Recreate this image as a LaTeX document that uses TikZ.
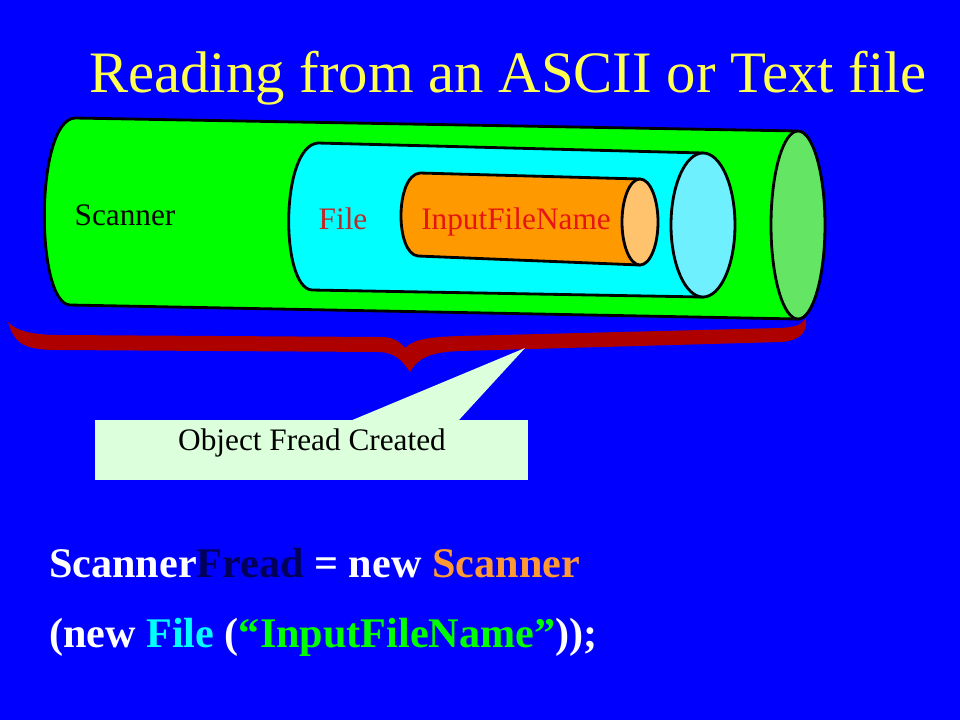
\documentclass[tikz,border=0pt]{standalone}
\usepackage{fontspec}
\setmainfont{Liberation Serif}
\definecolor{bg}{RGB}{0,0,255}
\definecolor{ttl}{RGB}{255,255,80}
\definecolor{gr}{RGB}{0,255,0}
\definecolor{grl}{RGB}{100,230,100}
\definecolor{cy}{RGB}{0,255,255}
\definecolor{cyl2}{RGB}{110,240,255}
\definecolor{orn}{RGB}{255,153,0}
\definecolor{ornl}{RGB}{255,195,110}
\definecolor{fred}{RGB}{190,40,40}
\definecolor{ired}{RGB}{230,20,20}
\definecolor{brc}{RGB}{175,0,0}
\definecolor{cal}{RGB}{220,255,220}
\definecolor{navy2}{RGB}{0,0,90}
\definecolor{or2}{RGB}{255,153,51}
\begin{document}
\begin{tikzpicture}[x=0.01cm,y=-0.01cm,line width=0.8pt,
  cyl/.style={draw=black,line join=round},
  lbl/.style={font=\fontsize{8.9pt}{10pt}\selectfont},
  code/.style={anchor=west,font=\bfseries\fontsize{12pt}{13pt}\selectfont,text=white}]
\fill[bg] (0,0) rectangle (960,720);
\useasboundingbox (0,0) rectangle (960,720);
\node[text=ttl,font=\fontsize{16.7pt}{18pt}\selectfont] (title) at (508,78) {Reading from an ASCII or Text file};
\draw[cyl,fill=gr] (75,118) .. controls (35,120) and (35,303) .. (70,305) -- (798,319) -- (798,131) -- cycle;
\draw[cyl,fill=grl] (798,225) ellipse [x radius=27,y radius=94];
\draw[cyl,fill=cy] (318,143) .. controls (280,146) and (280,288) .. (312,290) -- (703,297) -- (703,153) -- cycle;
\draw[cyl,fill=cyl2] (703,225) ellipse [x radius=32,y radius=72];
\draw[cyl,fill=orn] (420,173) .. controls (395,175) and (395,254) .. (418,256) -- (640,265) -- (640,179) -- cycle;
\draw[cyl,fill=ornl] (640,222) ellipse [x radius=18,y radius=43];
\node[lbl] (scn) at (125,215) {Scanner};
\node[lbl,text=fred] (fil) at (343,219) {File};
\node[lbl,text=ired] (inp) at (516,222) {InputFileName};
\fill[brc] (8,322) .. controls (15,345) and (25,350) .. (60,350) -- (380,352) .. controls (395,353) and (402,360) .. (410,372) .. controls (418,358) and (430,352) .. (460,351) -- (780,342) .. controls (800,341) and (808,332) .. (806,318) .. controls (800,326) and (795,327) .. (780,328) -- (460,336) .. controls (425,337) and (413,340) .. (405,348) .. controls (398,339) and (390,337) .. (380,337) -- (60,335) .. controls (30,335) and (15,330) .. (8,322) -- cycle;
\fill[cal] (95,420) rectangle (528,480);
\fill[cal] (350,421) -- (525,348) -- (458,421) -- cycle;
\node[lbl] (obj) at (312,443) {Object Fread Created};
\node[code] (l1) at (36,563) {Scanner\textcolor{navy2}{Fread} = new \textcolor{or2}{Scanner}};
\node[code] (l2) at (36,637) {(new \textcolor{cy}{File} (\textcolor{gr}{“InputFileName”}));};
\end{tikzpicture}
\end{document}
